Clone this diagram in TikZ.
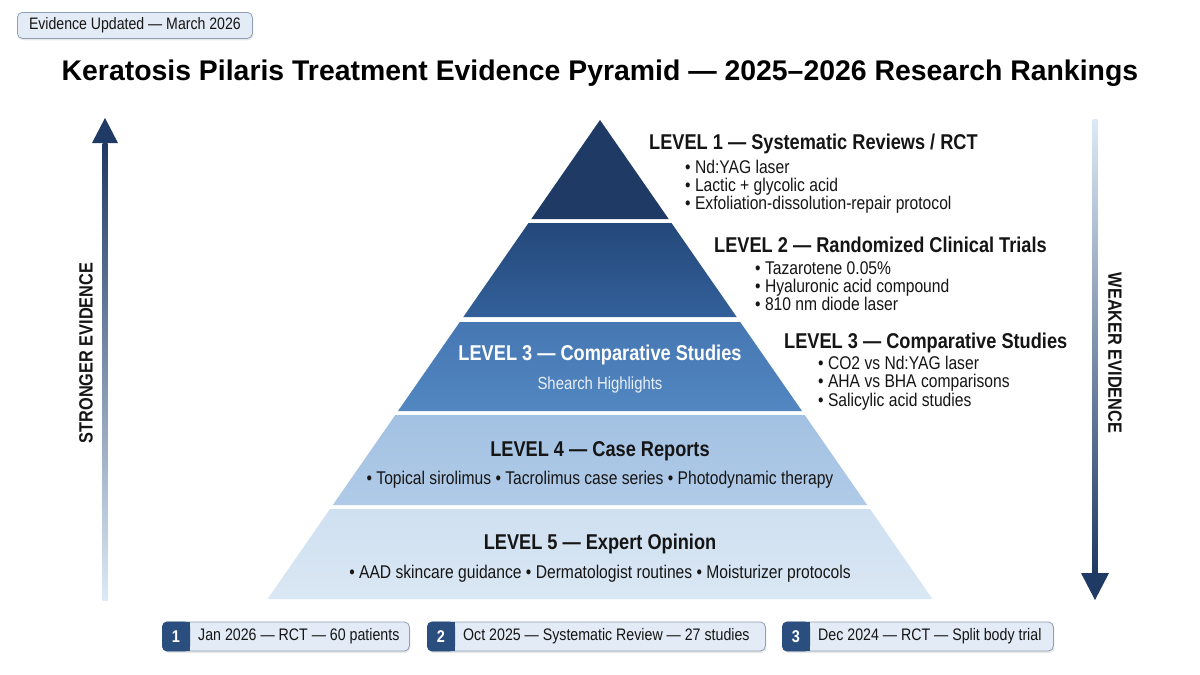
\documentclass[tikz,border=0pt]{standalone}
\usepackage{fontspec}
\setmainfont{Liberation Sans}[FakeStretch=0.85]
\newfontfamily\titlefont{Liberation Sans}
\usetikzlibrary{shadows,calc}
\definecolor{navy}{HTML}{1F3A64}
\definecolor{lvtwoA}{HTML}{24487A}
\definecolor{lvtwoB}{HTML}{33609A}
\definecolor{lvthreeA}{HTML}{4677B2}
\definecolor{lvthreeB}{HTML}{5287C2}
\definecolor{lvfourA}{HTML}{A3C1E2}
\definecolor{lvfourB}{HTML}{B0CBE8}
\definecolor{lvfiveA}{HTML}{CFE0F1}
\definecolor{lvfiveB}{HTML}{DAE7F4}
\definecolor{arrowlight}{HTML}{DDE9F6}
\definecolor{pillfill}{HTML}{E3ECF6}
\definecolor{pillline}{HTML}{8E9FB5}
\definecolor{txt}{HTML}{151515}
\definecolor{numfill}{HTML}{2A4E7E}
\tikzset{
  heading/.style={font=\bfseries\fontsize{21.4}{24}\selectfont, text=txt, inner sep=0pt},
  bullets/.style={font=\fontsize{18.4}{20}\selectfont, text=txt, inner sep=0pt, align=left},
  sidelabel/.style={font=\bfseries\fontsize{19.2}{21}\selectfont, text=txt, inner sep=0pt},
  pill/.style={draw=pillline, line width=0.8pt, fill=pillfill, rounded corners=5pt,
    minimum height=29pt, inner sep=0pt, text=txt,
    drop shadow={opacity=0.18, shadow xshift=1pt, shadow yshift=-2pt}},
  pilltext/.style={font=\fontsize{16.7}{18}\selectfont, text=txt, inner sep=0pt, anchor=west},
  numtext/.style={font=\bfseries\fontsize{17}{18}\selectfont, text=white, inner sep=0pt},
}
\begin{document}
\begin{tikzpicture}[x=1pt,y=-1pt]
\useasboundingbox (0,0) rectangle (1200,675);
\fill[white] (0,0) rectangle (1200,675);

% badge
\node[pill, minimum width=235pt, minimum height=26pt, anchor=north west,
  font=\fontsize{16.6}{18}\selectfont] (badge) at (17,12) {Evidence Updated — March 2026};

% title
\node[font=\titlefont\bfseries\fontsize{28.4}{31}\selectfont, text=black, inner sep=0pt, anchor=base] (title) at (600,80)
  {Keratosis Pilaris Treatment Evidence Pyramid — 2025–2026 Research Rankings};

% pyramid bands
\fill[navy] (600,120) -- (668.7,219) -- (531.3,219) -- cycle;
\shade[top color=lvtwoA, bottom color=lvtwoB] (528.5,223) -- (671.5,223) -- (736.7,317) -- (463.3,317) -- cycle;
\shade[top color=lvthreeA, bottom color=lvthreeB] (459.8,322) -- (740.2,322) -- (802,411) -- (398,411) -- cycle;
\shade[top color=lvfourA, bottom color=lvfourB] (395.3,415) -- (804.7,415) -- (867.2,505) -- (332.8,505) -- cycle;
\shade[top color=lvfiveA, bottom color=lvfiveB] (330,509) -- (870,509) -- (932.4,599) -- (267.6,599) -- cycle;

% in-pyramid texts
\node[heading, text=white, anchor=base] (l3in) at (600,360) {LEVEL 3 — Comparative Studies};
\node[bullets, text=white!88!lvthreeA, anchor=base, font=\fontsize{17.5}{19}\selectfont] (l3sub) at (600,389) {Shearch Highlights};
\node[heading, anchor=base] (l4) at (600,456) {LEVEL 4 — Case Reports};
\node[bullets, anchor=base] (l4b) at (600,484) {• Topical sirolimus • Tacrolimus case series • Photodynamic therapy};
\node[heading, anchor=base] (l5) at (600,549) {LEVEL 5 — Expert Opinion};
\node[bullets, anchor=base] (l5b) at (600,578) {• AAD skincare guidance • Dermatologist routines • Moisturizer protocols};

% right-hand labels
\node[heading, anchor=base west] (l1) at (649,149) {LEVEL 1 — Systematic Reviews / RCT};
\node[bullets, anchor=base west] (l1a) at (685,173) {• Nd:YAG laser};
\node[bullets, anchor=base west] (l1b) at (685,191) {• Lactic + glycolic acid};
\node[bullets, anchor=base west] (l1c) at (685,209) {• Exfoliation-dissolution-repair protocol};

\node[heading, anchor=base west] (l2) at (714,252) {LEVEL 2 — Randomized Clinical Trials};
\node[bullets, anchor=base west] (l2a) at (755,274) {• Tazarotene 0.05\%};
\node[bullets, anchor=base west] (l2b) at (755,292) {• Hyaluronic acid compound};
\node[bullets, anchor=base west] (l2c) at (755,310) {• 810 nm diode laser};

\node[heading, anchor=base west] (l3) at (784,348) {LEVEL 3 — Comparative Studies};
\node[bullets, anchor=base west] (l3a) at (818,369) {• CO2 vs Nd:YAG laser};
\node[bullets, anchor=base west] (l3b) at (818,387) {• AHA vs BHA comparisons};
\node[bullets, anchor=base west] (l3c) at (818,406) {• Salicylic acid studies};

% left arrow (stronger)
\coordinate (sbot) at (105,600);
\coordinate (stip) at (105,118);
\shade[top color=navy, bottom color=arrowlight] ($(sbot)+(-2.5,0)$) rectangle ($(stip)+(2.5,25)$);
\fill[navy] ($(stip)+(-13,25)$) -- (stip) -- ($(stip)+(13,25)$) -- cycle;
\node[sidelabel, rotate=90] (strong) at (86,353) {STRONGER EVIDENCE};

% right arrow (weaker)
\coordinate (wtop) at (1095,119);
\coordinate (wtip) at (1095,600);
\shade[top color=arrowlight, bottom color=navy] ($(wtop)+(-2.5,0)$) rectangle ($(wtip)+(2.5,-27)$);
\fill[navy] ($(wtip)+(-14,-27)$) -- (wtip) -- ($(wtip)+(14,-27)$) -- cycle;
\node[sidelabel, rotate=-90] (weak) at (1115,353) {WEAKER EVIDENCE};

% bottom pills
\node[pill, minimum width=247pt, anchor=west] (p1) at (162,636.5) {};
\node[pill, minimum width=338pt, anchor=west] (p2) at (427,636.5) {};
\node[pill, minimum width=271pt, anchor=west] (p3) at (782,636.5) {};
\foreach \p/\n in {p1/1,p2/2,p3/3}{
  \fill[numfill, rounded corners=5pt] (\p.south west) rectangle ($(\p.north west)+(28,0)$);
  \fill[numfill] ($(\p.north west)+(18,0)$) rectangle ($(\p.south west)+(28,0)$);
  \node[numtext] (\p n) at ($(\p.west)+(14,0)$) {\n};
}
\node[pilltext] (p1t) at ($(p1.west)+(36,0)$) {Jan 2026 — RCT — 60 patients};
\node[pilltext] (p2t) at ($(p2.west)+(36,0)$) {Oct 2025 — Systematic Review — 27 studies};
\node[pilltext] (p3t) at ($(p3.west)+(36,0)$) {Dec 2024 — RCT — Split body trial};
\end{tikzpicture}
\end{document}
